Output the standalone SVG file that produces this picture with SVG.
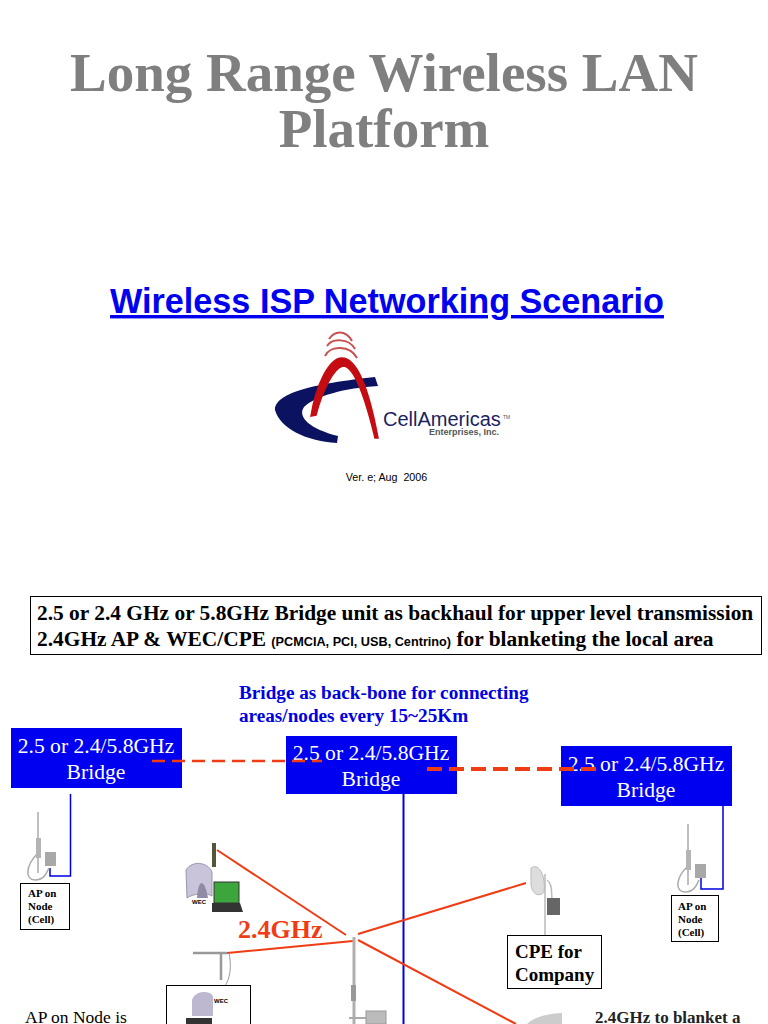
<svg xmlns="http://www.w3.org/2000/svg" width="768" height="1024" viewBox="0 0 768 1024">
<style>
.t{font-family:"Liberation Serif",serif}
.s{font-family:"Liberation Sans",Arial,sans-serif}
.br{fill:#0000f0}
.bt{font-family:"Liberation Serif",serif;font-size:21.6px;fill:#fff;text-anchor:middle}
.lb{fill:#fff;stroke:#000;stroke-width:1}
.ap{font-family:"Liberation Serif",serif;font-size:11px;font-weight:bold;fill:#000}
.bd{font-family:"Liberation Serif",serif;font-size:19px;font-weight:bold;fill:#000}
.r{stroke:#f03c14;stroke-width:2;fill:none}
.bl{stroke:#0000e0;fill:none}
.g{fill:#b4b4b4}
</style>
<rect width="768" height="1024" fill="#fff"/>
<text class="t" x="384" y="91" font-size="55" font-weight="bold" fill="#7f7f7f" text-anchor="middle">Long Range Wireless LAN</text>
<text class="t" x="384" y="147" font-size="55" font-weight="bold" fill="#7f7f7f" text-anchor="middle">Platform</text>
<text class="s" x="387" y="313" font-size="34.200" font-weight="bold" fill="#0000f0" text-anchor="middle" text-decoration="underline">Wireless ISP Networking Scenario</text>
<g id="logo">
<path d="M375 377L378 386C345 388 315 396 304 407C297 417 310 429 338 436L337 443C305 441 280 428 275 410C275 396 300 385 375 377Z" fill="#0b1260"/>
<path d="M311 416C316 385 329 358 342 358C358 358 370 395 378 438L375 438C367 405 355 366 343 366C333 368 322 392 316 415Z" fill="#c40d12" stroke="#c40d12" stroke-width="1.500"/>
<path d="M325 356C330 345 350 345 357 358M327 346C332 338 349 338 355 349M329 339C335 330 346 330 352 341" fill="none" stroke="#c8504f" stroke-width="2"/>
<text class="s" x="383" y="426" font-size="20" fill="#1b1f63">CellAmericas</text>
<text class="s" x="503" y="419" font-size="5" fill="#555">TM</text>
<text class="s" x="429" y="435" font-size="9" font-weight="bold" fill="#555">Enterprises, Inc.</text>
</g>
<text class="s" x="386.500" y="481" font-size="10.700" fill="#000" text-anchor="middle" style="white-space:pre">Ver. e; Aug  2006</text>
<g id="summary">
<rect x="30.500" y="596.500" width="731" height="58" fill="#fff" stroke="#000"/>
<text class="t" x="37" y="620" font-size="21.400" font-weight="bold">2.5 or 2.4 GHz or 5.8GHz Bridge unit as backhaul for upper level transmission</text>
<text class="t" x="37" y="646" font-size="21.400" font-weight="bold">2.4GHz AP &amp; WEC/CPE <tspan class="s" font-size="12.700">(PCMCIA, PCI, USB, Centrino)</tspan> for blanketing the local area</text>
</g>
<text class="t" x="239" y="699" font-size="19.200" font-weight="bold" fill="#0000e0">Bridge as back-bone for connecting</text>
<text class="t" x="239" y="722" font-size="19.200" font-weight="bold" fill="#0000e0">areas/nodes every 15~25Km</text>
<g id="bridge1"><rect class="br" x="11" y="728" width="171" height="60"/><text class="bt" x="96" y="753">2.5 or 2.4/5.8GHz</text><text class="bt" x="96" y="779">Bridge</text></g>
<g id="bridge2"><rect class="br" x="286" y="736" width="171" height="58"/><text class="bt" x="371" y="760">2.5 or 2.4/5.8GHz</text><text class="bt" x="371" y="786">Bridge</text></g>
<g id="bridge3"><rect class="br" x="561" y="746" width="171" height="60"/><text class="bt" x="646" y="771">2.5 or 2.4/5.8GHz</text><text class="bt" x="646" y="797">Bridge</text></g>
<g id="connectors">
<path d="M152 761H322" stroke="#f03c14" stroke-width="2.500" stroke-dasharray="13 7" fill="none"/>
<path d="M427 769H596" stroke="#f03c14" stroke-width="4" stroke-dasharray="15 7" fill="none"/>
<path class="bl" stroke-width="1.500" d="M70.500 794V876H50V868"/>
<path class="bl" stroke-width="1.500" d="M723 806V889H701V877"/>
<path class="bl" stroke-width="2" d="M403.500 794V1024"/>
<path class="r" d="M217 850L346 935M227 953L353 941M358 934L526 883M358 940L516 1024"/>
</g>
<g id="ap-left">
<path d="M38 812V873M38 853C25 866 25 880 35 880C43 880 46 875 49 868" fill="none" stroke="#aaa" stroke-width="1.500"/>
<rect x="36" y="838" width="5" height="20" class="g"/><rect x="45" y="852" width="11" height="14" fill="#a8a8a8"/>
<rect class="lb" x="20.500" y="883.500" width="49" height="46"/>
<text class="ap" x="28" y="897">AP on</text><text class="ap" x="28" y="910">Node</text><text class="ap" x="28" y="923">(Cell)</text>
</g>
<g id="ap-right">
<path d="M688 824V885M688 866C675 878 675 892 685 892C693 892 696 887 699 880" fill="none" stroke="#aaa" stroke-width="1.500"/>
<rect x="686" y="850" width="5" height="20" class="g"/><rect x="695" y="864" width="11" height="14" fill="#a8a8a8"/>
<rect class="lb" x="671.500" y="895.500" width="47" height="46"/>
<text class="ap" x="678" y="910">AP on</text><text class="ap" x="678" y="923">Node</text><text class="ap" x="678" y="936">(Cell)</text>
</g>
<g id="wec-top">
<rect x="212" y="843" width="4" height="24" fill="#55563a"/>
<path d="M186 870C192 860 208 862 212 872V896C206 892 192 894 187 898Z" fill="#c9c4da" stroke="#9a96ac"/>
<path d="M197 898C198 880 204 876 208 898Z" fill="#8f8aa5"/>
<rect x="214" y="882" width="25" height="21" fill="#3ca53c" stroke="#333"/>
<path d="M212 903H240L243 912H212Z" fill="#333"/>
<text class="s" x="192" y="904" font-size="6" font-weight="bold">WEC</text>
</g>
<g id="wec-bottom">
<path d="M193 953H227M221 953V980" stroke="#999" stroke-width="2.500" fill="none"/>
<path d="M229 953C233 972 228 992 213 992" stroke="#999" fill="none"/>
<rect class="lb" x="166.500" y="985.500" width="84" height="50"/>
<path d="M192 1000C195 990 210 990 213 996V1016H192Z" fill="#bdb7cf"/>
<text class="s" x="214" y="1003" font-size="6" font-weight="bold">WEC</text>
<rect x="186" y="1018" width="26" height="6" fill="#333"/>
</g>
<g id="hub">
<rect x="352.500" y="937" width="3" height="90" fill="#b0b0b0"/>
<rect x="351" y="985" width="5" height="16" fill="#999"/>
<rect x="366" y="1011" width="20" height="13" fill="#bbb" stroke="#999"/>
<path d="M349 1018H366" stroke="#aaa" stroke-width="2"/>
</g>
<g id="cpe">
<path d="M531 868C540 862 546 878 544 892C541 896 533 897 531 885Z" fill="#ddd" stroke="#bbb"/>
<path d="M545 874V935M547 880C553 884 551 893 552 898" fill="none" stroke="#bbb" stroke-width="1.500"/>
<rect x="547" y="898" width="13" height="17" fill="#666"/>
<rect class="lb" x="507.500" y="935.500" width="94" height="53"/>
<text class="bd" x="515" y="958">CPE for</text><text class="bd" x="515" y="981">Company</text>
</g>
<path d="M527 1024C535 1016 548 1014 562 1013V1024Z" fill="#ccc"/>
<text class="t" x="238" y="938" font-size="26" font-weight="bold" fill="#f03c14">2.4GHz</text>
<text class="t" x="25" y="1023" font-size="17.500" fill="#000">AP on Node is</text>
<text class="t" x="595" y="1023" font-size="17" font-weight="bold" fill="#222">2.4GHz to blanket a</text>
</svg>
